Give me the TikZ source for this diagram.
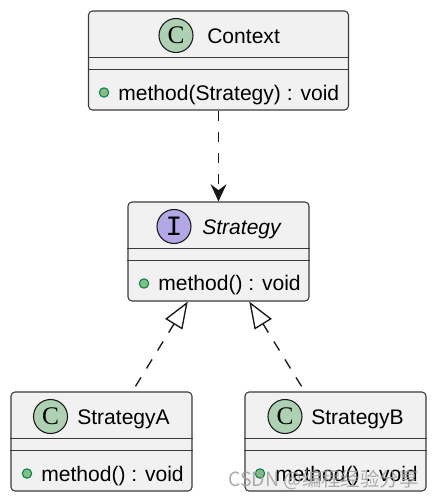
\documentclass[tikz,border=0pt]{standalone}
\usepackage{fontspec}
\setmainfont{Liberation Sans}
\newfontfamily\cjkmark{Noto Sans CJK SC}
\newfontfamily\glyphserif{Liberation Serif}
\newfontfamily\glyphmono{Liberation Mono}
\usetikzlibrary{arrows.meta}
\definecolor{boxfill}{HTML}{F1F1F1}
\definecolor{boxline}{HTML}{181818}
\definecolor{classgreen}{HTML}{ADD1B2}
\definecolor{ifacepurple}{HTML}{B4A7E5}
\definecolor{dotfill}{HTML}{84BE84}
\definecolor{dotline}{HTML}{038048}
\tikzset{
  classbox/.style={draw=boxline!85, fill=boxfill, line width=0.8pt, rounded corners=3pt, minimum height=74.25pt, inner sep=0pt},
  wide/.style={minimum width=195pt},
  narrow/.style={minimum width=135.75pt},
  badge/.style={circle, draw=boxline, line width=0.8pt, minimum size=25.5pt, inner sep=0pt},
  dot/.style={circle, draw=dotline, fill=dotfill, line width=0.8pt, minimum size=7pt, inner sep=0pt},
  label/.style={anchor=base west, inner sep=0pt, text=black, font=\fontsize{15.8}{18}\selectfont},
  dep/.style={draw=boxline, line width=1pt, dash pattern=on 7.9pt off 7.9pt, -{Stealth[length=13pt, width=12pt, inset=4.5pt]}},
  impl/.style={draw=boxline, line width=1pt, dash pattern=on 7.9pt off 7.9pt, shorten <=4.5pt, -{Triangle[open, length=20pt, width=15pt, fill=white]}}
}
\begin{document}
\begin{tikzpicture}[x=0.75pt, y=-0.75pt]
  \path[use as bounding box] (0,0) rectangle (435,500);
  % boxes
  \node[classbox, wide] (Context) at (218.5,60.5) {};
  \node[classbox, narrow] (Strategy) at (218.5,251.5) {};
  \node[classbox, narrow] (StrategyA) at (101.5,441.5) {};
  \node[classbox, narrow] (StrategyB) at (335.5,441.5) {};
  % separators
  \foreach \boxname in {Context,Strategy,StrategyA,StrategyB} {
    \draw[draw=boxline!85, line width=0.8pt] ([yshift=-35.25pt]\boxname.north west) -- ([yshift=-35.25pt]\boxname.north east);
    \draw[draw=boxline!85, line width=0.8pt] ([yshift=-44.25pt]\boxname.north west) -- ([yshift=-44.25pt]\boxname.north east);
  }
  % badges
  \node[badge, fill=classgreen, font=\glyphserif\fontsize{19}{19}\selectfont] (ContextC) at (176,35.5) {C};
  \node[badge, fill=ifacepurple, font=\glyphmono\fontsize{21}{21}\selectfont] (StrategyI) at (174,226.5) {I};
  \node[badge, fill=classgreen, font=\glyphserif\fontsize{19}{19}\selectfont] (StrategyAC) at (50.5,416.5) {C};
  \node[badge, fill=classgreen, font=\glyphserif\fontsize{19}{19}\selectfont] (StrategyBC) at (285,416.5) {C};
  % names
  \node[label] (ContextName) at (207,43) {Context};
  \node[label] (StrategyName) at (202,234) {\itshape Strategy};
  \node[label] (StrategyAName) at (77,424) {StrategyA};
  \node[label] (StrategyBName) at (311,424) {StrategyB};
  % methods
  \node[dot] (ContextDot) at (104,92.5) {};
  \node[label] (ContextMethod) at (118,100) {method(Strategy) : void};
  \node[dot] (StrategyDot) at (144,283.5) {};
  \node[label] (StrategyMethod) at (158,290) {method() : void};
  \node[dot] (StrategyADot) at (27,473.5) {};
  \node[label] (StrategyAMethod) at (41,481) {method() : void};
  \node[dot] (StrategyBDot) at (260,473.5) {};
  \node[label] (StrategyBMethod) at (275,481) {method() : void};
  % connectors
  \draw[dep] (Context) -- (Strategy);
  \draw[impl] (StrategyA) -- (Strategy);
  \draw[impl] (StrategyB) -- (Strategy);
  % watermark
  \node[anchor=base west, inner sep=0pt, text=gray!75, opacity=0.85, font=\cjkmark\fontsize{14.6}{16}\selectfont] (mark) at (228,486) {CSDN @编程经验分享};
\end{tikzpicture}
\end{document}
